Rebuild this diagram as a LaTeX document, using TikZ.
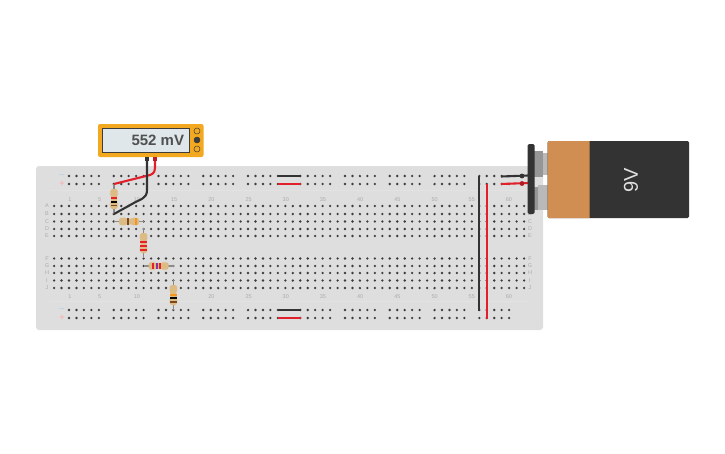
\documentclass[tikz,border=0pt]{standalone}
\usepackage{fontspec}
\setmainfont{Liberation Sans}
\definecolor{boardgray}{HTML}{DEDEDE}
\definecolor{holegray}{HTML}{3C3C3C}
\definecolor{marklabel}{HTML}{ABABAB}
\definecolor{leadgray}{HTML}{8A8A8A}
\definecolor{restan}{HTML}{DDBB84}
\definecolor{meterorange}{HTML}{F3A91F}
\definecolor{screenblue}{HTML}{DFE7EA}
\definecolor{wirered}{HTML}{E0202A}
\definecolor{wireblack}{HTML}{333333}
\definecolor{battan}{HTML}{D08E52}
\definecolor{railblue}{HTML}{BBD3E6}
\definecolor{railred}{HTML}{F2B8B8}
\definecolor{bandbrown}{HTML}{7A4A1E}
\definecolor{bandorange}{HTML}{F7941D}
\definecolor{bandred}{HTML}{E8202A}
\definecolor{bandpurple}{HTML}{8A2FA0}
\tikzset{
  wire/.style={line width=2.1pt},
  redwire/.style={wire, wirered},
  blackwire/.style={wire, wireblack},
  tinylabel/.style={font=\fontsize{5.5}{5.5}\selectfont, text=marklabel, inner sep=0pt},
  railmark/.style={font=\fontsize{9}{9}\selectfont, inner sep=0pt},
  knob/.style={circle, draw=holegray, line width=0.5pt, fill=meterorange, minimum size=6pt, inner sep=0pt},
}
% body of a resistor, 30 long from its first lead end, along local x
\newcommand{\resistorbody}{
  \draw [leadgray, line width=1.3pt] (0,0) -- (30,0);
  \fill [restan, rounded corners=2.5pt] (5,-3.8) -- (10,-3.8) -- (11,-2.9) -- (19,-2.9) -- (20,-3.8) -- (25,-3.8) -- (25,3.8) -- (20,3.8) -- (19,2.9) -- (11,2.9) -- (10,3.8) -- (5,3.8) -- cycle;
}
\newcommand{\band}[2]{\fill [#2] (#1-0.9,-3.2) rectangle (#1+0.9,3.2);}
\begin{document}
\begin{tikzpicture}[x=1pt, y=-1pt]
    \useasboundingbox (0,0) rectangle (725,453);

    % Board
    \fill [boardgray, rounded corners=3pt] (36,166) rectangle (543,330);
    \draw [marklabel!35, line width=0.4pt] (50,190) -- (529,190);
    \draw [marklabel!35, line width=0.4pt] (50,301.5) -- (529,301.5);

    % Holes
    \foreach \yy in {206,214,221.5,229,236,258.5,266,273,280.5,288}
        \foreach \cc in {-1,...,62}
            \fill [holegray] ({69+(\cc-1)*7.46},\yy) circle (1.3);
    \foreach \yy in {176,184,310,318}
        \foreach \gg in {1,7,13,19,25,32,38,44,50,56}
            \foreach \cc in {0,...,4}
                \fill [holegray] ({69+(\gg+\cc-1)*7.46},\yy) circle (1.3);

    % Numbers
    \foreach \num/\cc in {1/1,5/5,10/10,15/15,20/20,25/25,30/30,35/35,40/40,45/45,50/50,55/55,60/60} {
        \node [tinylabel] (top\num) at ({70+(\cc-1)*7.44},200) {\num};
        \node [tinylabel] (bot\num) at ({70+(\cc-1)*7.44},296.5) {\num};
    }
    % Row letters
    \foreach \letter/\yy in {A/206,B/214,C/221.5,D/229,E/236,F/258.5,G/266,H/273,I/280.5,J/288} {
        \node [tinylabel] (left\letter) at (47,\yy) {\letter};
        \node [tinylabel] (right\letter) at (530,\yy) {\letter};
    }
    % Rail signs
    \foreach \name/\yy in {a/176,b/310}
        \node [railmark, text=railblue] (minus\name) at (62,\yy) {\textbf{--}};
    \foreach \name/\yy in {a/184,b/318}
        \node [railmark, text=railred] (plus\name) at (62,\yy) {\textbf{+}};

    % Wire ends
    \coordinate (railA) at (277.5,176);
    \coordinate (railB) at (301,176);
    \coordinate (railC) at (277.5,184);
    \coordinate (railD) at (301,184);
    \coordinate (railE) at (277.5,310);
    \coordinate (railF) at (301,310);
    \coordinate (railG) at (277.5,318);
    \coordinate (railH) at (301,318);
    \coordinate (longA) at (479,176);
    \coordinate (longB) at (479,311);
    \coordinate (longC) at (486.7,184);
    \coordinate (longD) at (486.7,319);
    \coordinate (batA) at (501,176.5);
    \coordinate (batB) at (528,175.5);
    \coordinate (batC) at (501,184);
    \coordinate (batD) at (528,183);
    \coordinate (probeA) at (147,159);
    \coordinate (probeB) at (155,159);
    \coordinate (resA) at (114,214);
    \coordinate (resB) at (114,184);

    % Resistors
    \begin{scope}[shift={(114,184)}, rotate=-90]
        \resistorbody
        \band{14}{bandred} \band{18}{black} \band{21.5}{bandbrown}
    \end{scope}
    \begin{scope}[shift={(114,221.5)}]
        \resistorbody
        \band{13.7}{bandbrown} \band{21.7}{bandorange}
    \end{scope}
    \begin{scope}[shift={(143.6,228)}, rotate=-90]
        \resistorbody
        \band{13.7}{bandred} \band{17.7}{bandred} \band{22}{bandred}
    \end{scope}
    \begin{scope}[shift={(143.6,266)}]
        \resistorbody
        \band{9.5}{bandred} \band{13}{bandpurple} \band{16.5}{bandred}
    \end{scope}
    \begin{scope}[shift={(173.4,280)}, rotate=-90]
        \resistorbody
        \band{15}{bandorange} \band{18.3}{black} \band{22.3}{bandbrown}
    \end{scope}

    % Wires
    \draw [blackwire] (railA) -- (railB);
    \draw [redwire] (railC) -- (railD);
    \draw [blackwire] (railE) -- (railF);
    \draw [redwire] (railG) -- (railH);
    \draw [blackwire] (longA) -- (longB);
    \draw [redwire] (longC) -- (longD);
    \draw [blackwire] (batA) -- (batB);
    \draw [redwire] (batC) -- (batD);
    \fill [wireblack] (522,176) circle (2.4);
    \fill [wirered!80!black] (522,183.5) circle (2.4);
    \draw [redwire] (probeB) -- (155,168) .. controls (155,174) and (151,175) .. (146,176) -- (resB);
    \draw [blackwire] (probeA) -- (147,190) .. controls (147,199) and (140,199) .. (132,204) -- (resA);

    % Multimeter
    \fill [meterorange, rounded corners=2pt] (98,124) rectangle (203.5,157);
    \node [draw=holegray, line width=1pt, fill=screenblue, minimum width=87pt, minimum height=24.5pt, inner sep=0pt, text=holegray!90!white, font=\fontsize{15}{15}\selectfont\bfseries, align=right] (screen) at (146.3,140.5) {\hspace*{23pt}552 mV};
    \node [knob] (knobA) at (197,131) {};
    \node [knob, fill=holegray] (knobB) at (197,140) {};
    \node [knob] (knobC) at (197,149) {};
    \fill [wireblack] (144.7,157) rectangle (149.3,160.5);
    \fill [wirered!85!black] (152.7,157) rectangle (157.3,160.5);

    % Battery
    \fill [leadgray!90!white] (534,151) rectangle (543,176.5);
    \fill [gray!55] (542.5,153) rectangle (548,175);
    \fill [leadgray!90!white] (534,186.5) rectangle (539,210);
    \fill [gray!55] (538,185) rectangle (548,210);
    \fill [wireblack, rounded corners=1.5pt] (527.7,144) rectangle (534.7,214);
    \fill [wireblack, rounded corners=1.5pt] (547.5,141) rectangle (689,218);
    \fill [battan] (549,141) [rounded corners=1.5pt] -- (547.5,141) -- (547.5,218) [sharp corners] -- (589.5,218) -- (589.5,141) -- cycle;
    \node [text=white!88!black, rotate=90, font=\fontsize{20}{20}\selectfont] (nine) at (631,180) {9V};
\end{tikzpicture}
\end{document}
